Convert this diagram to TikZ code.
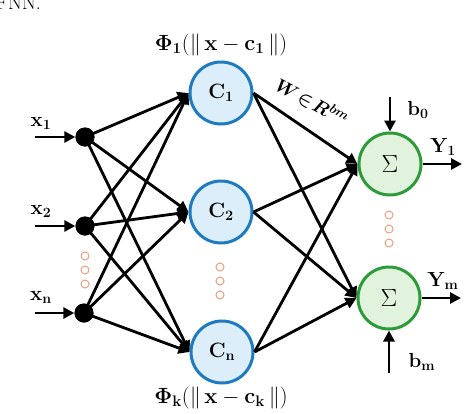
\documentclass[tikz,border=0pt]{standalone}
\usepackage{amsmath,bm}
\usetikzlibrary{arrows.meta}
\definecolor{cblue}{HTML}{1F7BC1}
\definecolor{cbluef}{HTML}{DCEEF9}
\definecolor{cgreen}{HTML}{2E9B3A}
\definecolor{cgreenf}{HTML}{E2F3DD}
\definecolor{dotc}{HTML}{E8A080}
\begin{document}
\begin{tikzpicture}[x=1pt,y=-1pt,
  cnode/.style={circle,draw=cblue,fill=cbluef,line width=3pt,minimum size=62pt,inner sep=0pt,font=\fontsize{20.74}{24}\selectfont},
  snode/.style={circle,draw=cgreen,fill=cgreenf,line width=3pt,minimum size=62pt,inner sep=0pt,font=\fontsize{24.88}{28}\selectfont},
  inp/.style={circle,fill=black,minimum size=19pt,inner sep=0pt},
  sdot/.style={circle,draw=dotc,line width=1pt,minimum size=8pt,inner sep=0pt},
  conn/.style={line width=2.8pt,-{Triangle[length=11pt,width=11pt]}},
  lbl/.style={font=\fontsize{17.28}{20}\selectfont,inner sep=0pt,scale=1.18},
  plbl/.style={lbl,scale=1.08}]
\useasboundingbox (0,0) rectangle (474,413);
\node[anchor=base west,inner sep=0pt,font=\fontsize{20}{22}\selectfont] (cap) at (-4,9) {FNN.};
% input dots
\node[inp] (i1) at (85,137) {};
\node[inp] (i2) at (85,226) {};
\node[inp] (i3) at (84,313) {};
\node[sdot] (d1) at (85,256) {};
\node[sdot] (d2) at (85,270) {};
\node[sdot] (d3) at (85,284) {};
% hidden
\node[cnode] (c1) at (221,93) {$\mathbf{C}_{\mathbf{1}}$};
\node[cnode] (c2) at (221,212) {$\mathbf{C}_{\mathbf{2}}$};
\node[cnode] (c3) at (222,352) {$\mathbf{C}_{\mathbf{n}}$};
\node[sdot] (e1) at (220,267) {};
\node[sdot] (e2) at (220,281) {};
\node[sdot] (e3) at (220,295) {};
% outputs
\node[snode] (s1) at (390,164) {$\Sigma$};
\node[snode] (s2) at (389,298) {$\Sigma$};
\node[sdot] (f1) at (389,215) {};
\node[sdot] (f2) at (389,229) {};
\node[sdot] (f3) at (389,243) {};
% input arrows
\coordinate (a1) at (35,137);
\coordinate (a2) at (35,226);
\coordinate (a3) at (35,313);
\draw[conn] (a1) -- (i1.west);
\draw[conn] (a2) -- (i2.west);
\draw[conn] (a3) -- (i3.west);
\node[lbl] (lx1) at (41,123) {$\mathbf{x}_{\mathbf{1}}$};
\node[lbl] (lx2) at (41,211) {$\mathbf{x}_{\mathbf{2}}$};
\node[lbl] (lx3) at (41,297) {$\mathbf{x}_{\mathbf{n}}$};
% input to hidden
\foreach \i in {i1,i2,i3}{
  \foreach \c in {c1,c2,c3}{
    \draw[conn] (\i.center) -- (\c.west);
  }
}
\foreach \i in {i1,i2,i3}{\node[inp] at (\i) {};}
% hidden to output
\foreach \c in {c1,c2,c3}{
  \foreach \s in {s1,s2}{
    \draw[conn] (\c.east) -- (\s.west);
  }
}
% outputs
\coordinate (y1) at (462,164);
\coordinate (y2) at (461,298);
\draw[conn] (s1.east) -- (y1);
\draw[conn] (s2.east) -- (y2);
\node[lbl] (ly1) at (443,147) {$\mathbf{Y}_{\mathbf{1}}$};
\node[lbl] (ly2) at (443,281) {$\mathbf{Y}_{\mathbf{m}}$};
% biases
\coordinate (b0) at (390,97);
\coordinate (bm) at (389,373);
\draw[conn] (b0) -- (s1.north);
\draw[conn] (bm) -- (s2.south);
\node[lbl] (lb0) at (418,110) {$\mathbf{b}_{\mathbf{0}}$};
\node[lbl] (lbm) at (422,362) {$\mathbf{b}_{\mathbf{m}}$};
% phi labels
\node[plbl] (p1) at (221,45) {$\bm{\Phi}_{\mathbf{1}}(\|\,\mathbf{x}-\mathbf{c}_{\mathbf{1}}\,\|)$};
\node[plbl] (pk) at (221,398) {$\bm{\Phi}_{\mathbf{k}}(\|\,\mathbf{x}-\mathbf{c}_{\mathbf{k}}\,\|)$};
% weight label
\node[lbl,scale=0.92,rotate=-28] (w) at (312,102) {$\bm{W\!\in\! R^{bm}}$};
\end{tikzpicture}
\end{document}
